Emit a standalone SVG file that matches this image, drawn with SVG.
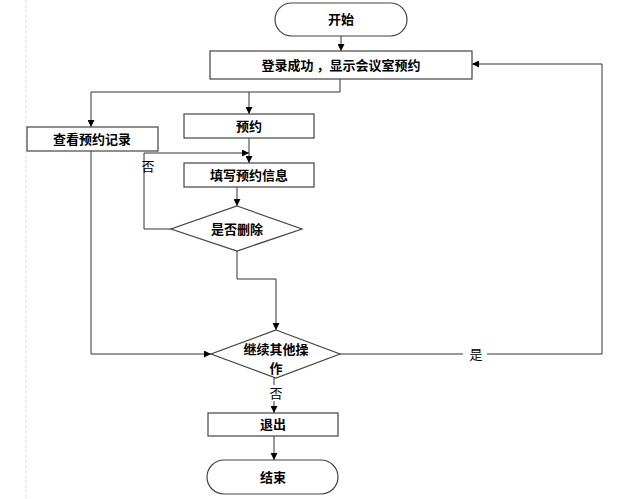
<svg xmlns="http://www.w3.org/2000/svg" width="631" height="499" viewBox="0 0 631 499">
<defs><marker id="a" viewBox="0 0 10 10" refX="10" refY="5" markerWidth="7" markerHeight="7" orient="auto"><path d="M0,0L10,5L0,10z" fill="#000"/></marker>
<style>.s{fill:#fff;stroke:#444;stroke-width:1.2}.t{font-family:"Noto Sans CJK SC",sans-serif;font-size:13px;font-weight:bold;text-anchor:middle;fill:#000}.l{fill:none;stroke:#333;stroke-width:1}.c{marker-end:url(#a)}</style></defs>
<rect width="631" height="499" fill="#fff"/>
<line x1="26" y1="0" x2="26" y2="499" stroke="#ddd" stroke-dasharray="3,2"/>
<g id="connectors">
<path class="l c" d="M341,36V51"/>
<path class="l" d="M340,79V92H91"/>
<path class="l c" d="M91,92V127"/>
<path class="l c" d="M249,92V114"/>
<path class="l c" d="M249,138V163"/>
<path class="l c" d="M237,187V206"/>
<path class="l c" d="M171,229H144V153H249"/>
<path class="l c" d="M237,251V279H276V330"/>
<path class="l c" d="M91,151V354H211"/>
<path class="l c" d="M340,354H602V64H472"/>
<path class="l c" d="M274,378V413"/>
<path class="l c" d="M274,436V460"/>
<text class="t" x="148" y="171" style="font-weight:normal">否</text>
<rect x="463" y="346" width="24" height="16" fill="#fff"/>
<text class="t" x="476" y="359" style="font-weight:normal">是</text>
<rect x="266" y="385" width="20" height="16" fill="#fff"/>
<text class="t" x="276" y="398" style="font-weight:normal">否</text>
</g>
<g id="start"><rect class="s" x="275" y="3" width="132" height="33" rx="16.5"/><text class="t" x="341" y="24">开始</text></g>
<g id="login"><rect class="s" x="210" y="51" width="262" height="28"/><text class="t" x="341" y="70">登录成功 ，显示会议室预约</text></g>
<g id="view"><rect class="s" x="27" y="127" width="131" height="24"/><text class="t" x="92" y="144">查看预约记录</text></g>
<g id="reserve"><rect class="s" x="184" y="114" width="130" height="24"/><text class="t" x="249" y="131">预约</text></g>
<g id="fill"><rect class="s" x="184" y="163" width="130" height="24"/><text class="t" x="249" y="180">填写预约信息</text></g>
<g id="delete"><path class="s" d="M237,206L302,229L237,251L171,229z"/><text class="t" x="237" y="234">是否删除</text></g>
<g id="continue"><path class="s" d="M276,330L340,354L276,378L211,354z"/><text class="t" x="276" y="354" font-size="12">继续其他操</text><text class="t" x="276" y="373" font-size="12">作</text></g>
<g id="exit"><rect class="s" x="208" y="413" width="130" height="23"/><text class="t" x="273" y="429">退出</text></g>
<g id="end"><rect class="s" x="207" y="460" width="131" height="34" rx="17"/><text class="t" x="273" y="482">结束</text></g>
</svg>
